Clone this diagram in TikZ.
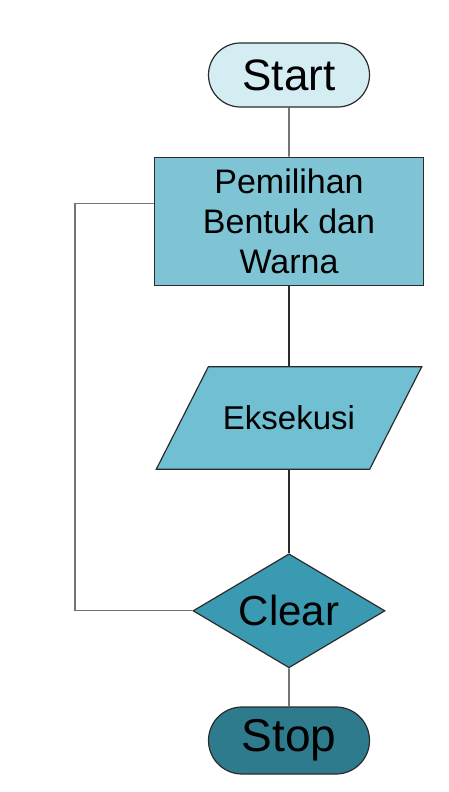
\documentclass[tikz,border=0pt]{standalone}
\usepackage{fontspec}
\setmainfont{Liberation Sans}
\usetikzlibrary{positioning, shapes.geometric, shapes.misc, backgrounds}
\usepackage{xcolor}
\definecolor{startfill}{HTML}{D4EDF3}
\definecolor{procfill}{HTML}{7FC4D5}
\definecolor{iofill}{HTML}{70BFD2}
\definecolor{decfill}{HTML}{3A9AB1}
\definecolor{stopfill}{HTML}{2E7B8E}
\definecolor{edge}{HTML}{2B2B2B}

\begin{document}
\begin{tikzpicture}[
    x=1pt, y=-1pt,
    term/.style={draw=edge, line width=1.2pt, rounded rectangle, minimum width=161pt, minimum height=64pt, inner sep=0pt, font=\fontsize{44}{48}\selectfont},
    box/.style={draw=edge, line width=1.2pt, fill=procfill, minimum width=269pt, minimum height=128pt, inner sep=0pt, align=center, font=\fontsize{34}{40}\selectfont},
    io/.style={minimum width=213pt, minimum height=102pt, inner sep=0pt, font=\fontsize{33}{36}\selectfont},
    iobody/.style={draw=edge, line width=1.2pt, fill=iofill},
    dec/.style={draw=edge, line width=1.2pt, fill=decfill, diamond, aspect=1.684, minimum width=192pt, minimum height=114pt, inner sep=0pt, font=\fontsize{42}{48}\selectfont},
    link/.style={draw=edge, line width=1.1pt},
    back/.style={draw=black!55, line width=1.1pt}
]
    \useasboundingbox (0,0) rectangle (449,792);

    \node[term, fill=startfill] (start) at (289,75) {Start};
    \node[box, below=49pt of start] (choose) {Pemilihan\\Bentuk dan\\Warna};
    \node[io, below=81pt of choose] (exec) {Eksekusi};
    \node[dec, below=84pt of exec] (clear) {Clear};
    \node[term, fill=stopfill, minimum height=67pt, font=\fontsize{46}{50}\selectfont, below=38pt of clear] (stop) {Stop};

    \begin{scope}[on background layer]
        \path[iobody] ([xshift=26pt]exec.north west) -- ([xshift=26pt]exec.north east)
            -- ([xshift=-26pt]exec.south east) -- ([xshift=-26pt]exec.south west) -- cycle;
    \end{scope}

    \coordinate (loopx) at (75,0);
    \coordinate (loopin) at ([yshift=18pt]choose.west);

    \draw[link] (start) -- (choose);
    \draw[link] (choose) -- (exec);
    \draw[link] (exec) -- (clear);
    \draw[link] (clear) -- (stop);
    \draw[back] (clear.west) -- (clear.west -| loopx) |- (loopin);
\end{tikzpicture}
\end{document}
